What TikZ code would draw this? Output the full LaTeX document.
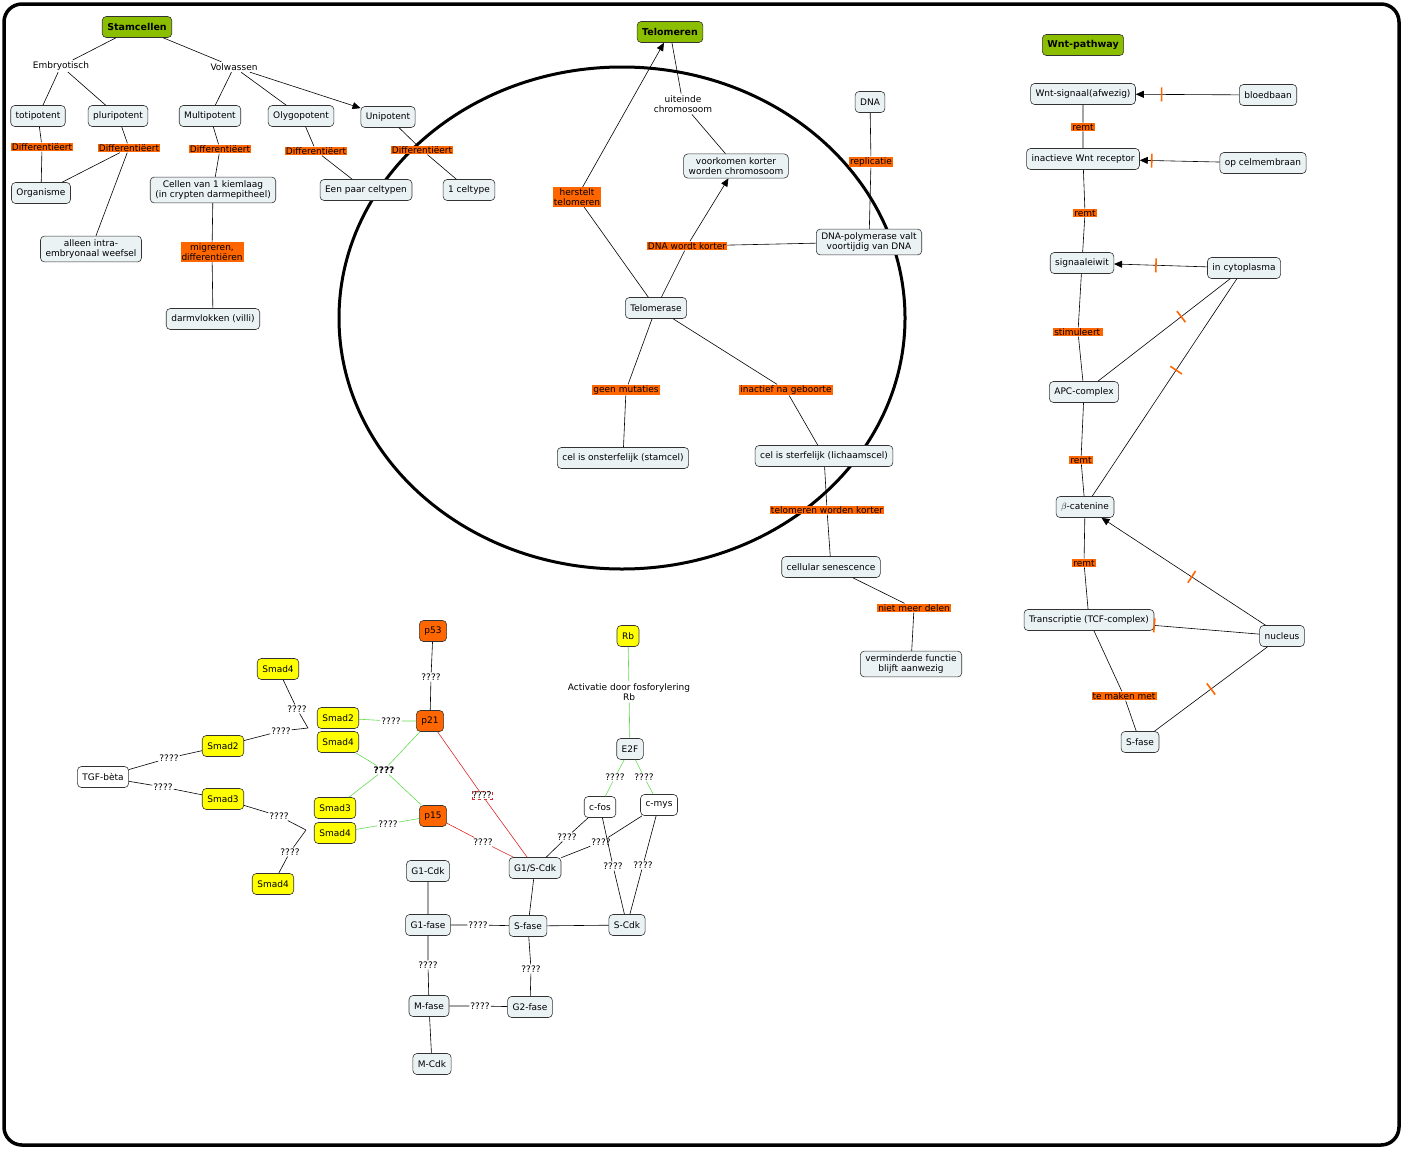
\documentclass[tikz,border=0pt]{standalone}
\usepackage{fontspec}
\setmainfont{DejaVu Sans}
\usetikzlibrary{arrows.meta}
\definecolor{boxc}{RGB}{234,242,243}
\definecolor{org}{RGB}{255,102,0}
\definecolor{grn}{RGB}{140,190,0}
\definecolor{ylw}{RGB}{255,255,0}
\definecolor{lgr}{RGB}{100,220,80}
\definecolor{rd}{RGB}{220,40,40}
\begin{document}
\begin{tikzpicture}[x=1pt,y=-1pt,
  every node/.style={font=\fontsize{9}{10.5}\selectfont},
  box/.style={draw=black!80,fill=boxc,rounded corners=4pt,inner xsep=5pt,minimum height=21pt,align=center,line width=0.6pt},
  wbox/.style={box,fill=white},
  ybox/.style={box,fill=ylw},
  obox/.style={box,fill=org},
  title/.style={box,fill=grn,font=\fontsize{9.5}{11}\selectfont\bfseries},
  lab/.style={fill=org,inner sep=1pt,align=center},
  txt/.style={inner sep=1.5pt,align=center},
  q/.style={inner sep=1pt},
  e/.style={line width=0.6pt,black},
  ge/.style={line width=0.6pt,lgr},
  re/.style={line width=0.6pt,rd},
  ar/.style={e,-{Triangle[length=8pt,width=7pt]}},
  tick/.style={fill=org,draw=none,minimum width=1.6pt,minimum height=14pt,inner sep=0pt,sloped}
]
\useasboundingbox (0,0) rectangle (1404,1151);
\draw[line width=3.5pt,rounded corners=18pt] (4,4) rectangle (1399,1145);
\draw[line width=3pt] (622,318) ellipse [x radius=283, y radius=251];

% Stamcellen
\node[title] (st) at (137,27) {Stamcellen};
\node[txt] (emb) at (61,66) {Embryotisch};
\node[txt] (vol) at (234,67) {Volwassen};
\node[box] (toti) at (38,116) {totipotent};
\node[box] (pluri) at (118,116) {pluripotent};
\node[box] (multi) at (210,116) {Multipotent};
\node[box] (oly) at (301,116) {Olygopotent};
\node[box] (uni) at (388,117) {Unipotent};
\node[lab] (d1) at (42,147) {Differentiëert};
\node[lab] (d2) at (129,148) {Differentiëert};
\node[lab] (d3) at (220,149) {Differentiëert};
\node[lab] (d4) at (316,151) {Differentiëert};
\node[lab] (d5) at (422,150) {Differentiëert};
\node[box] (orgn) at (41,193) {Organisme};
\node[box] (cel) at (213,190) {Cellen van 1 kiemlaag\\(in crypten darmepitheel)};
\node[box] (paar) at (366,190) {Een paar celtypen};
\node[box] (een) at (469,190) {1 celtype};
\node[box] (alleen) at (91,249) {alleen intra-\\embryonaal weefsel};
\node[lab] (mig) at (212,252) {migreren,\\differentiëren};
\node[box] (darm) at (213,319) {darmvlokken (villi)};
\draw[e] (st)--(emb) (st)--(vol) (emb)--(toti) (emb)--(pluri) (vol)--(multi) (vol)--(oly);
\draw[ar] (vol)--(uni);
\draw[e] (toti)--(d1)--(orgn) (pluri)--(d2)--(orgn) (d2)--(alleen) (multi)--(d3)--(cel)
 (oly)--(d4)--(paar) (uni)--(d5)--(een) (cel)--(mig)--(darm);

% Telomeren
\node[title] (tel) at (670,32) {Telomeren};
\node[txt] (uit) at (683,104) {uiteinde\\chromosoom};
\node[box] (voork) at (736,166) {voorkomen korter\\worden chromosoom};
\node[box] (dna) at (870,102) {DNA};
\node[lab] (repl) at (871,162) {replicatie};
\node[box] (pol) at (869,242) {DNA-polymerase valt\\voortijdig van DNA};
\node[lab] (korter) at (687,246) {DNA wordt korter};
\node[lab] (herst) at (577,197) {herstelt\\telomeren};
\node[box] (tase) at (656,308) {Telomerase};
\node[lab] (geen) at (626,390) {geen mutaties};
\node[lab] (inact) at (786,390) {inactief na geboorte};
\node[box] (onst) at (623,458) {cel is onsterfelijk (stamcel)};
\node[box] (sterf) at (824,456) {cel is sterfelijk (lichaamscel)};
\node[lab] (twk) at (827,510) {telomeren worden korter};
\node[box] (sen) at (831,567) {cellular senescence};
\node[lab] (niet) at (914,608) {niet meer delen};
\node[box] (verm) at (911,664) {verminderde functie\\blijft aanwezig};
\draw[e] (tase)--(herst); \draw[ar] (herst)--(tel);
\draw[e] (tel)--(uit)--(voork) (dna)--(repl)--(pol) (pol)--(korter) (tase)--(korter);
\draw[ar] (korter)--(voork);
\draw[e] (tase)--(geen)--(onst) (tase)--(inact)--(sterf) (sterf)--(twk)--(sen) (sen)--(niet)--(verm);

% Wnt
\node[title] (wnt) at (1083,45) {Wnt-pathway};
\node[box] (ws) at (1083,94) {Wnt-signaal(afwezig)};
\node[box] (blo) at (1268,95) {bloedbaan};
\node[box] (rec) at (1083,159) {inactieve Wnt receptor};
\node[box] (mem) at (1263,163) {op celmembraan};
\node[box] (sig) at (1082,263) {signaaleiwit};
\node[box] (cyt) at (1244,268) {in cytoplasma};
\node[box] (apc) at (1084,392) {APC-complex};
\node[box] (bcat) at (1085,507) {$\beta$-catenine};
\node[box] (tcf) at (1089,620) {Transcriptie (TCF-complex)};
\node[box] (nuc) at (1282,636) {nucleus};
\node[box] (sf) at (1140,742) {S-fase};
\node[lab] (r1) at (1083,127) {remt};
\node[lab] (r2) at (1085,213) {remt};
\node[lab] (stim) at (1078,332) {stimuleert\,};
\node[lab] (r3) at (1081,460) {remt};
\node[lab] (r4) at (1084,563) {remt};
\node[lab] (tmm) at (1124,696) {te maken met};
\draw[e] (ws)--(r1)--(rec) (rec)--(r2)--(sig) (sig)--(stim)--(apc) (apc)--(r3)--(bcat) (bcat)--(r4)--(tcf) (tcf)--(tmm)--(sf);
\draw[ar] (blo)--(ws) node[tick,pos=0.75]{};
\draw[ar] (mem)--(rec) node[tick,pos=0.85]{};
\draw[ar] (cyt)--(sig) node[tick,pos=0.55]{};
\draw[e] (cyt)--(apc) node[tick,pos=0.37]{};
\draw[e] (cyt)--(bcat) node[tick,pos=0.42]{};
\draw[ar] (nuc)--(bcat) node[tick,pos=0.45]{};
\draw[e] (nuc)--(tcf) node[tick,pos=1]{};
\draw[e] (nuc)--(sf) node[tick,pos=0.5]{};

% Cell cycle
\node[obox] (p53) at (433,631) {p53};
\node[obox] (p21) at (430,721) {p21};
\node[obox] (p15) at (433,816) {p15};
\node[ybox] (rb) at (628,636) {Rb};
\node[ybox] (s4a) at (278,669) {Smad4};
\node[ybox] (s2b) at (338,718) {Smad2};
\node[ybox] (s4b) at (338,742) {Smad4};
\node[ybox] (s2a) at (223,746) {Smad2};
\node[wbox] (tgf) at (103,777) {TGF-bèta};
\node[ybox] (s3a) at (223,799) {Smad3};
\node[ybox] (s3b) at (335,808) {Smad3};
\node[ybox] (s4c) at (335,833) {Smad4};
\node[ybox] (s4d) at (273,884) {Smad4};
\node[box] (e2f) at (630,749) {E2F};
\node[wbox] (cfos) at (600,807) {c-fos};
\node[wbox] (cmys) at (659,805) {c-mys};
\node[box] (g1s) at (535,868) {G1/S-Cdk};
\node[box] (g1c) at (428,871) {G1-Cdk};
\node[box] (g1f) at (428,925) {G1-fase};
\node[box] (sfa) at (528,926) {S-fase};
\node[box] (scdk) at (627,925) {S-Cdk};
\node[box] (mf) at (429,1006) {M-fase};
\node[box] (g2f) at (530,1007) {G2-fase};
\node[box] (mcdk) at (432,1064) {M-Cdk};
\node[txt] (act) at (629,692) {Activatie door fosforylering\\Rb};
\node[q] (q1) at (431,677) {????};
\node[q] (q2) at (297,709) {????};
\node[q] (q3) at (281,731) {????};
\node[q] (q4) at (169,758) {????};
\node[q] (q5) at (163,787) {????};
\node[q] (q6) at (279,816) {????};
\node[q] (q7) at (290,852) {????};
\node[q] (q8) at (391,721) {????};
\node[q,font=\fontsize{9}{10.5}\selectfont\bfseries] (q9) at (384,770) {????};
\node[q] (q10) at (388,824) {????};
\node[q] (q11) at (483,842) {????};
\node[q,draw=rd,dashed,inner sep=0.5pt] (q12) at (482,795) {????};
\node[q] (q13) at (615,777) {????};
\node[q] (q14) at (644,777) {????};
\node[q] (q15) at (567,837) {????};
\node[q] (q16) at (601,842) {????};
\node[q] (q17) at (613,866) {????};
\node[q] (q18) at (643,865) {????};
\node[q] (q19) at (478,925) {????};
\node[q] (q20) at (428,965) {????};
\node[q] (q21) at (531,969) {????};
\node[q] (q22) at (480,1006) {????};
\coordinate (stk1) at (308,728);
\coordinate (stk2) at (306,830);
\draw[e] (p53)--(q1)--(p21) (s4a)--(q2)--(stk1) (s2a)--(q3)--(stk1) (tgf)--(q4)--(s2a) (tgf)--(q5)--(s3a)
 (s3a)--(q6)--(stk2) (s4d)--(q7)--(stk2);
\draw[ge] (s2b)--(q8)--(p21) (p21)--(q9)--(s3b) (s4b)--(q9)--(p15) (s4c)--(q10)--(p15) (rb)--(act)--(e2f)
 (e2f)--(q13)--(cfos) (e2f)--(q14)--(cmys);
\draw[re] (p15)--(q11)--(g1s) (p21)--(q12)--(g1s);
\draw[e] (cfos)--(q15)--(g1s) (cmys)--(q16)--(g1s) (cfos)--(q17)--(scdk) (cmys)--(q18)--(scdk)
 (g1s)--(sfa) (sfa)--(scdk) (g1c)--(g1f) (g1f)--(q19)--(sfa) (g1f)--(q20)--(mf) (sfa)--(q21)--(g2f)
 (mf)--(q22)--(g2f) (mf)--(mcdk);
\end{tikzpicture}
\end{document}
